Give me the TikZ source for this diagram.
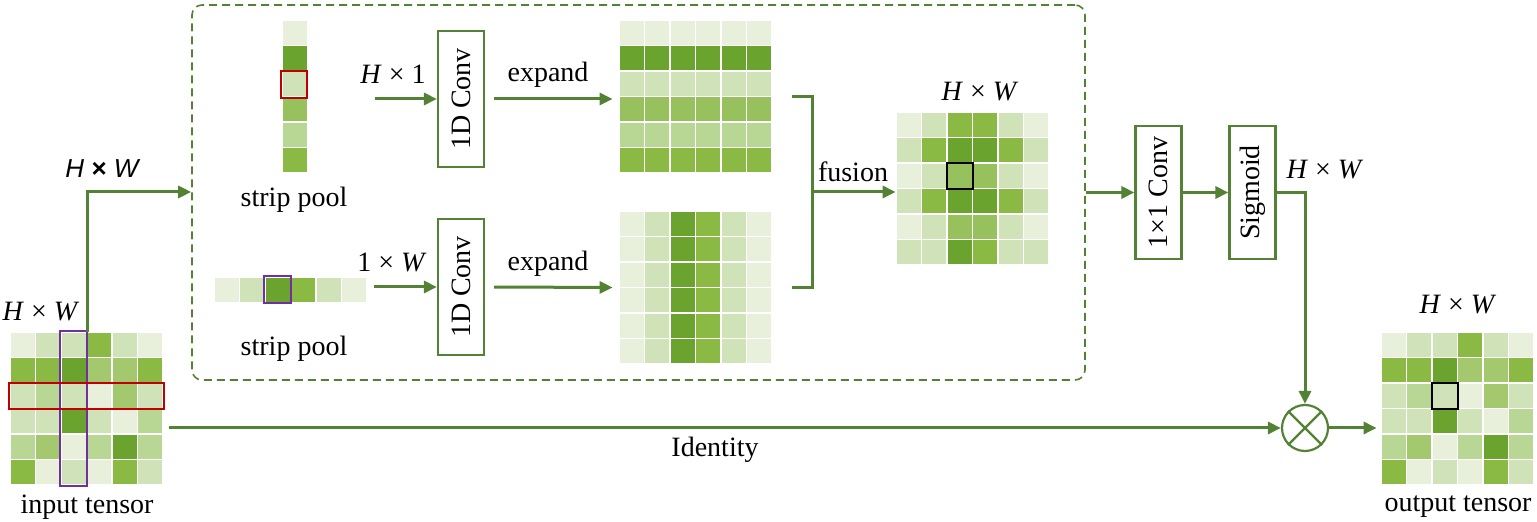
\documentclass[tikz,border=0pt]{standalone}
\usepackage{fontspec}
\setmainfont{Liberation Serif}
\newfontfamily\labelsans{Liberation Sans}
\usetikzlibrary{arrows.meta,shapes}

\definecolor{flowgreen}{HTML}{548235}
\definecolor{tE}{HTML}{E8F0DC}
\definecolor{tL}{HTML}{D0E2B8}
\definecolor{tB}{HTML}{B9D794}
\definecolor{tA}{HTML}{A3C86D}
\definecolor{tN}{HTML}{97C15C}
\definecolor{tM}{HTML}{8AB944}
\definecolor{tD}{HTML}{6AA32D}
\definecolor{markred}{HTML}{C00000}
\definecolor{markpurple}{HTML}{7030A0}

% #1,#2 top left corner, #3 rows of cell colours
\newcommand{\cellgrid}[3]{%
  \foreach \rowcols [count=\r from 0] in {#3} {
    \foreach \cc [count=\k from 0] in \rowcols {
      \filldraw[fill=\cc, draw=white, line width=0.6pt] ({#1+25.5*\k},{#2+25.5*\r}) rectangle ++(25.5,25.5);
    }
  }
}

\begin{document}
\begin{tikzpicture}[x=0.5pt, y=-0.5pt, font=\fontsize{14}{16}\selectfont,
  flow/.style={flowgreen, line width=1.5pt, -{Triangle[length=6.5pt,width=6pt]}},
  bar/.style={flowgreen, line width=1.5pt},
  opbox/.style={draw=flowgreen, line width=1.1pt, minimum width=23pt, minimum height=66.5pt, inner sep=0pt},
  gridbox/.style={minimum size=76.5pt, inner sep=0pt},
  cellmark/.style={line width=1.2pt},
  lbl/.style={inner sep=0pt}]
\useasboundingbox (0,0) rectangle (1537,522);

% dashed frame
\node[draw=flowgreen, line width=0.8pt, dash pattern=on 4pt off 2.5pt, rounded corners=5pt, minimum width=446.5pt, minimum height=187.5pt] (box) at (638.5,192.5) {};

% input tensor
\cellgrid{10}{332}{{tE,tL,tL,tM,tL,tE},{tM,tM,tD,tA,tA,tM},{tL,tB,tL,tE,tA,tL},{tL,tL,tD,tL,tE,tB},{tB,tA,tE,tB,tD,tB},{tM,tE,tL,tE,tM,tL}}
\node[gridbox] (inp) at (86.5,408.5) {};
\draw[cellmark, markpurple] (60,331) rectangle (87,486);
\draw[cellmark, markred] (9,383) rectangle (164,409);

% strips
\cellgrid{282}{20}{{tE},{tD},{tL},{tN},{tB},{tM}}
\draw[cellmark, markred] (281,71) rectangle (307,98);
\cellgrid{214}{277}{{tE,tL,tD,tM,tL,tE}}
\draw[cellmark, markpurple] (264,276) rectangle (291,303);

% expanded maps
\cellgrid{619}{20}{{tE,tE,tE,tE,tE,tE},{tD,tD,tD,tD,tD,tD},{tL,tL,tL,tL,tL,tL},{tN,tN,tN,tN,tN,tN},{tB,tB,tB,tB,tB,tB},{tM,tM,tM,tM,tM,tM}}
\node[gridbox] (rowmap) at (695.5,96.5) {};
\cellgrid{619}{211}{{tE,tL,tD,tM,tL,tE},{tE,tL,tD,tM,tL,tE},{tE,tL,tD,tM,tL,tE},{tE,tL,tD,tM,tL,tE},{tE,tL,tD,tM,tL,tE},{tE,tL,tD,tM,tL,tE}}
\node[gridbox] (colmap) at (695.5,287.5) {};

% fused map
\cellgrid{896}{112}{{tE,tL,tM,tM,tL,tE},{tL,tM,tD,tD,tM,tL},{tE,tL,tN,tN,tL,tE},{tL,tM,tD,tD,tM,tL},{tE,tL,tN,tN,tL,tE},{tL,tL,tD,tM,tL,tL}}
\node[gridbox] (fused) at (972.5,188.5) {};
\draw[cellmark, black] (947,163) rectangle (973,189);

% output tensor
\cellgrid{1381}{332}{{tE,tL,tL,tM,tL,tE},{tM,tM,tD,tA,tA,tM},{tL,tB,tL,tE,tA,tL},{tL,tL,tD,tL,tE,tB},{tB,tA,tE,tB,tD,tB},{tM,tE,tL,tE,tM,tL}}
\node[gridbox] (outp) at (1457.5,408.5) {};
\draw[cellmark, black] (1432,383) rectangle (1458,409);

% operations
\node[opbox, minimum height=68pt] (rowconv) at (461,99) {\rotatebox{90}{1D Conv}};
\node[opbox, minimum height=68pt] (colconv) at (461,287) {\rotatebox{90}{1D Conv}};
\node[opbox] (pwconv) at (1158.5,192.5) {\rotatebox{90}{1×1 Conv}};
\node[opbox] (sig) at (1252.5,192.5) {\rotatebox{90}{Sigmoid}};
\node[circle, draw=flowgreen, line width=1.1pt, minimum size=23pt, inner sep=0pt] (mul) at (1305,428) {};
\draw[flowgreen, line width=1.1pt] (mul.north west) -- (mul.south east) (mul.north east) -- (mul.south west);

% connectors
\coordinate (split) at (87,192);
\draw[flow] (split |- inp.north) |- (box.west |- split);
\coordinate (hin) at (375,99);
\draw[flow] (hin) -- (rowconv.west);
\draw[flow, shorten <=4.5pt, shorten >=3pt] (rowconv.east) -- (rowconv.east -| rowmap.west);
\coordinate (win) at (374,287);
\draw[flow] (win) -- (colconv.west);
\draw[flow, shorten <=4.5pt, shorten >=3pt] (colconv.east) -- (colmap.west);
\draw[bar] ([xshift=10pt]rowmap.east) -| ([xshift=20pt]colmap.east) -- ([xshift=10pt]colmap.east);
\coordinate (join) at (812,192);
\draw[flow] (join) -- (join -| fused.west);
\draw[flow] (box.east) -- (pwconv.west);
\draw[flow] (pwconv.east) -- (sig.west);
\draw[flow] (sig.east) -| (mul.north);
\draw[flow] ([xshift=3pt]inp.east |- mul.west) -- (mul.west);
\draw[flow, shorten >=2pt] (mul.east) -- (mul.east -| outp.west);

% labels
\node[lbl, font=\labelsans\fontsize{13}{15}\selectfont] (splitlbl) at (103,169) {\textit{H} \textbf{×} \textit{W}};
\node[lbl] (inlbl) at (41,312) {\textit{H} × \textit{W}};
\node[lbl] (intxt) at (87,507) {input tensor};
\node[lbl] (pooltop) at (294,200) {strip pool};
\node[lbl] (poolbot) at (294,349) {strip pool};
\node[lbl] (hlbl) at (393,74) {\textit{H} × 1};
\node[lbl] (wlbl) at (392,262) {1 × \textit{W}};
\node[lbl] (exptop) at (548,75) {expand};
\node[lbl] (expbot) at (548,264) {expand};
\node[lbl] (fuselbl) at (853,172) {fusion};
\node[lbl] (fusedlbl) at (980,92) {\textit{H} × \textit{W}};
\node[lbl] (siglbl) at (1325,170) {\textit{H} × \textit{W}};
\node[lbl] (outlbl) at (1458,305) {\textit{H} × \textit{W}};
\node[lbl] (outtxt) at (1458,507) {output tensor};
\node[lbl] (idlbl) at (715,450) {Identity};
\end{tikzpicture}
\end{document}
